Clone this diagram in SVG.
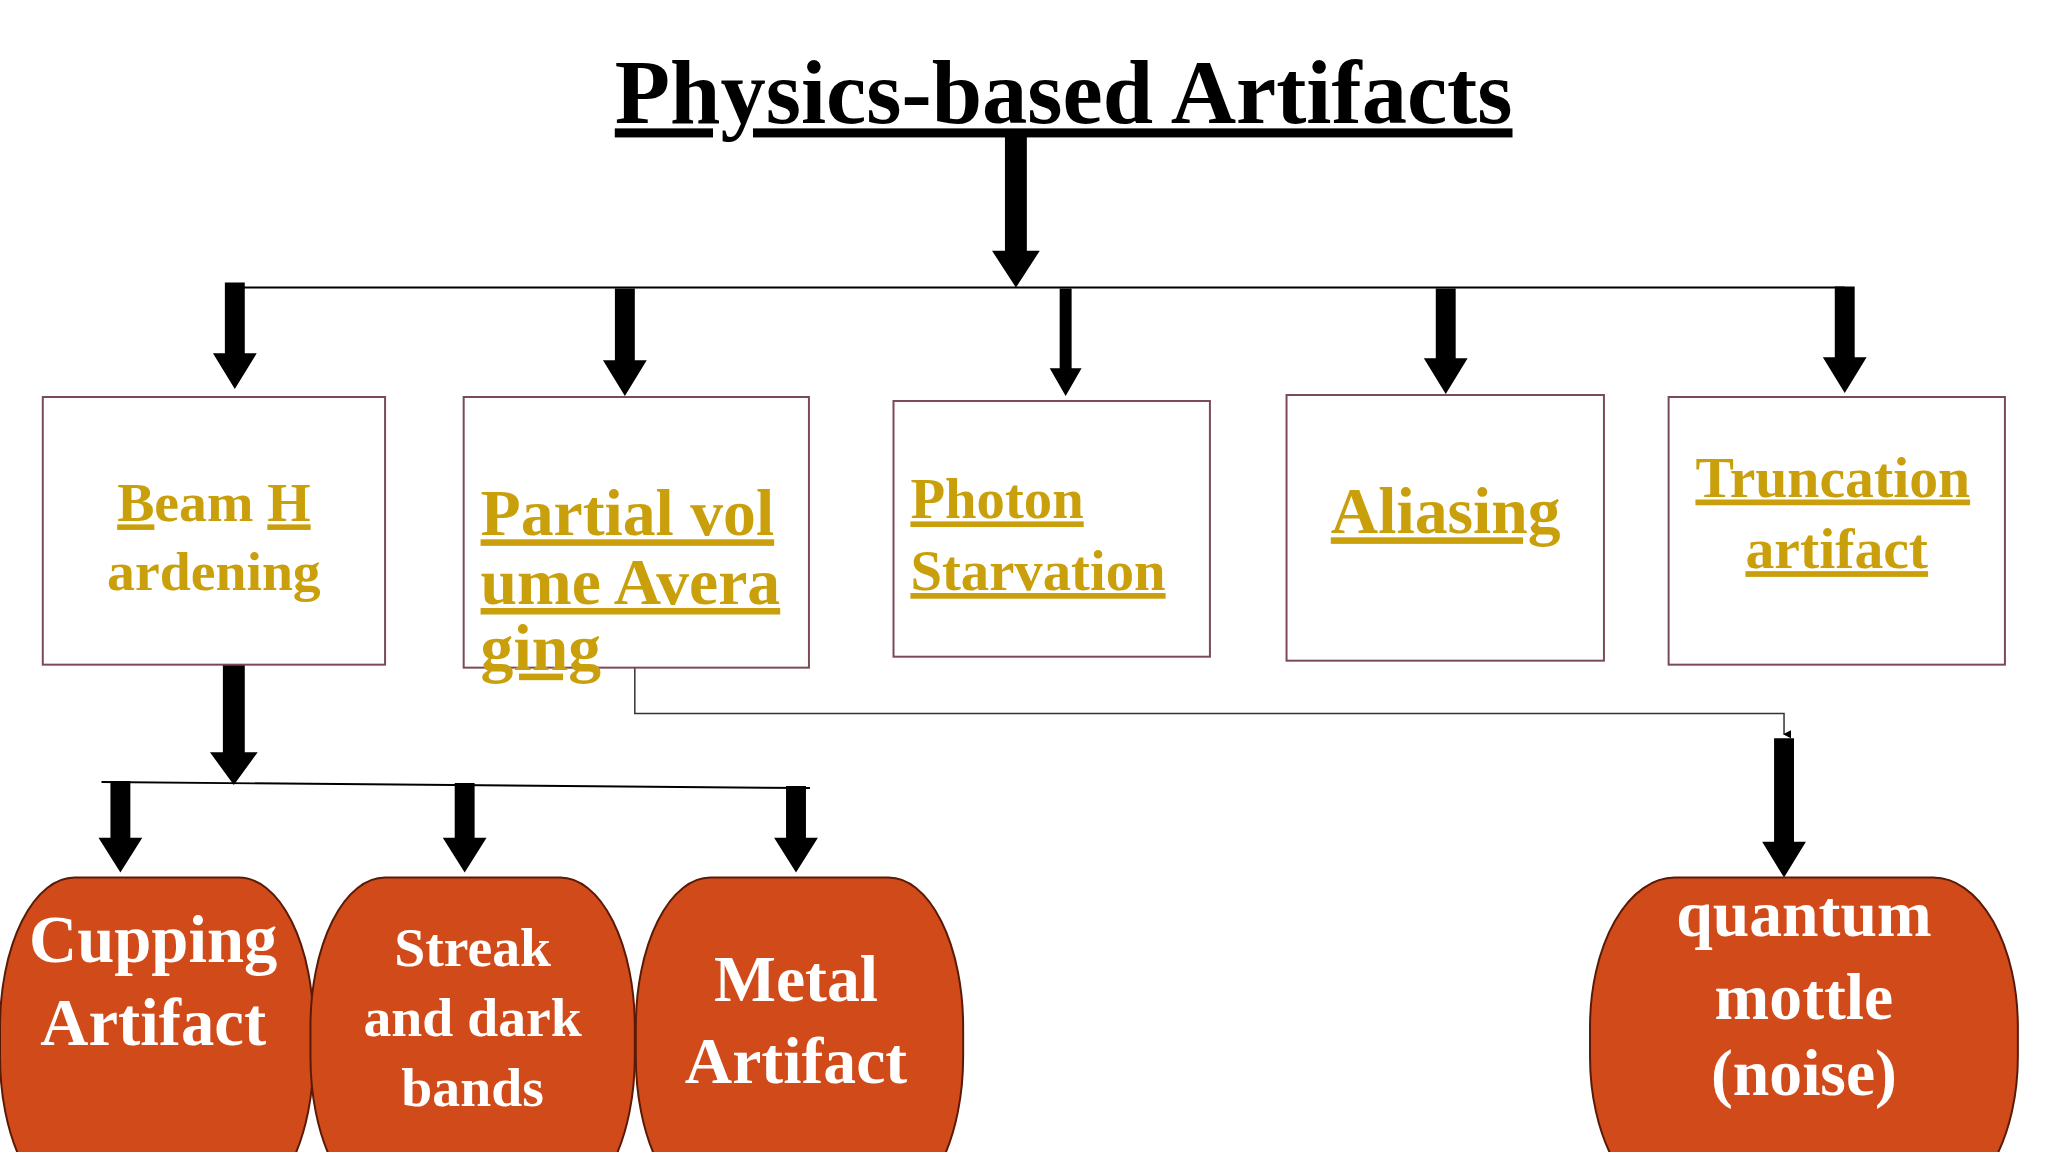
<svg xmlns="http://www.w3.org/2000/svg" width="2048" height="1152" viewBox="0 0 2048 1152">
<defs>
<style>
.box{fill:#fff;stroke:#7a4a55;stroke-width:2}
.lbl{font-family:"Liberation Serif",serif;font-weight:bold;fill:#C9A00C;text-decoration:underline}
.nu{text-decoration:none}
.pill{fill:#D14A1A;stroke:#5a1a08;stroke-width:2}
.wt{font-family:"Liberation Serif",serif;font-weight:bold;fill:#fff;text-anchor:middle}
.ln{stroke:#000;stroke-width:2;fill:none}
</style>
<marker id="sm" markerWidth="8" markerHeight="8" refX="4" refY="7" orient="auto" markerUnits="userSpaceOnUse"><path d="M0,0 L8,0 L4,8 Z" fill="#000"/></marker>
</defs>
<rect width="2048" height="1152" fill="#fff"/>
<g transform="scale(0.995)">
<text x="1069" y="124" text-anchor="middle" font-family="Liberation Serif,serif" font-weight="bold" font-size="91" text-decoration="underline">Physics-based Artifacts</text>
<g id="connectors">
<path d="M1010,135h22v117h13l-24,37l-24,-37h13z"/>
<path class="ln" d="M236,289H1854"/>
<path d="M226,284h20v71h12l-22,36l-22,-36h12z"/>
<path d="M618,290h20v72h12l-22,36l-22,-36h12z"/>
<path d="M1065,290h12v80h10l-16,28l-16,-28h10z"/>
<path d="M1443,290h20v70h12l-22,36l-22,-36h12z"/>
<path d="M1844,288h20v71h12l-22,36l-22,-36h12z"/>
<path d="M224,668h22v88h13l-24,33l-24,-33h13z"/>
<path class="ln" d="M102,786L814,792"/>
<path d="M111,785h20v57h12l-22,35l-22,-35h12z"/>
<path d="M457,787h20v55h12l-22,35l-22,-35h12z"/>
<path d="M790,790h20v52h12l-22,35l-22,-35h12z"/>
<path d="M638,671V717H1793V738" fill="none" stroke="#333" stroke-width="1.5" marker-end="url(#sm)"/>
<path d="M1783,742h20v104h12l-22,36l-22,-36h12z"/>
</g>
<g id="n1"><rect class="box" x="43" y="399" width="344" height="269"/>
<text class="lbl" font-size="56" text-anchor="middle" style="text-decoration:none"><tspan x="215" y="524"><tspan class="lbl">B</tspan>eam <tspan class="lbl">H</tspan></tspan><tspan x="215" y="593">ardening</tspan></text></g>
<g id="n2"><rect class="box" x="466" y="399" width="347" height="272"/>
<text class="lbl" font-size="66"><tspan x="483" y="538">Partial vol</tspan><tspan x="483" y="607">ume Avera</tspan><tspan x="483" y="673">ging</tspan></text></g>
<g id="n3"><rect class="box" x="898" y="403" width="318" height="257"/>
<text class="lbl" font-size="57"><tspan x="915" y="521">Photon</tspan><tspan x="915" y="593">Starvation</tspan></text></g>
<g id="n4"><rect class="box" x="1293" y="397" width="319" height="267"/>
<text class="lbl" font-size="66" text-anchor="middle" x="1453" y="536">Aliasing</text></g>
<g id="n5"><rect class="box" x="1677" y="399" width="338" height="269"/>
<text class="lbl" font-size="58" text-anchor="middle"><tspan x="1842" y="499">Truncation</tspan><tspan x="1846" y="571">artifact</tspan></text></g>
<g id="b1"><rect class="pill" x="0" y="882" width="315" height="330" rx="75" ry="150"/>
<text class="wt" font-size="67"><tspan x="154" y="967">Cupping</tspan><tspan x="154" y="1050">Artifact</tspan></text></g>
<g id="b2"><rect class="pill" x="312" y="882" width="326" height="330" rx="75" ry="150"/>
<text class="wt" font-size="56"><tspan x="475" y="971">Streak</tspan><tspan x="475" y="1041">and dark</tspan><tspan x="475" y="1112">bands</tspan></text></g>
<g id="b3"><rect class="pill" x="639" y="882" width="329" height="330" rx="75" ry="150"/>
<text class="wt" font-size="66"><tspan x="800" y="1006">Metal</tspan><tspan x="800" y="1088">Artifact</tspan></text></g>
<g id="b4"><rect class="pill" x="1598" y="882" width="430" height="330" rx="85" ry="150"/>
<text class="wt" font-size="66"><tspan x="1813" y="941">quantum</tspan><tspan x="1813" y="1024">mottle</tspan><tspan x="1813" y="1101">(noise)</tspan></text></g>
</g>
</svg>
